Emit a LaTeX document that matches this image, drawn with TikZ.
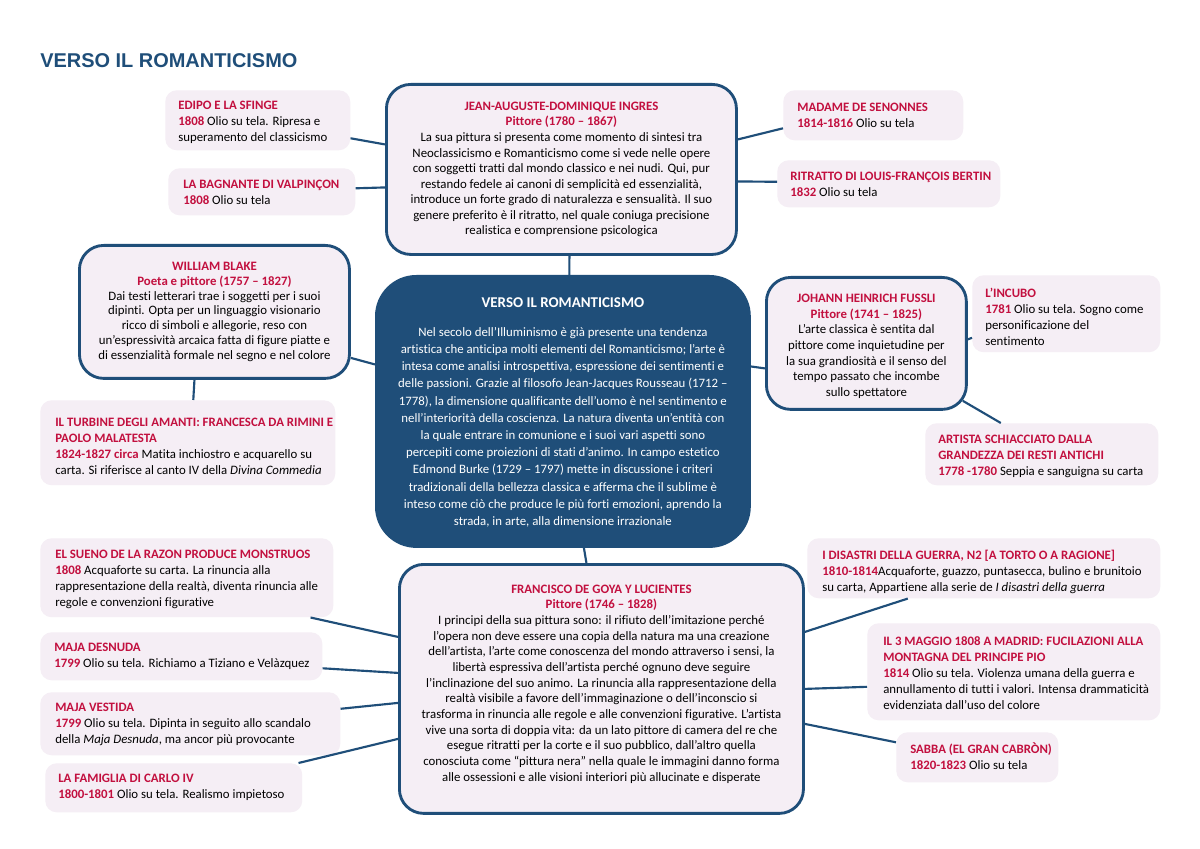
\documentclass[tikz,border=0pt]{standalone}
\usepackage{fontspec}
\setmainfont{Carlito}[Ligatures=NoCommon]
\newfontfamily\titlefont{Liberation Sans}
\usetikzlibrary{calc}
\definecolor{navy}{HTML}{1F4E79}
\definecolor{cardfill}{HTML}{F5EEF5}
\definecolor{redc}{HTML}{C2103F}
\newcommand{\redb}[1]{\textbf{\textcolor{redc}{#1}}}
\begin{document}
\begin{tikzpicture}[x=0.7017pt,y=-0.7017pt,
  card/.style={fill=cardfill, draw=none, rounded corners=8pt, inner sep=0pt, anchor=north west},
  bigcard/.style={fill=cardfill, draw=navy, line width=2pt, rounded corners=17pt, inner sep=0pt, anchor=north west},
  centralcard/.style={fill=navy, draw=navy, line width=2pt, rounded corners=28pt, inner sep=0pt, anchor=north west},
  txt/.style={inner sep=0pt, align=left, anchor=west, font=\fontsize{9}{11.2}\selectfont},
  ctxt/.style={inner sep=0pt, align=center, font=\fontsize{9}{10.9}\selectfont},
  link/.style={draw=navy, line width=1.5pt},
]
\useasboundingbox (0,0) rectangle (1200,849);
\fill[white] (0,0) rectangle (1200,849);

% title
\node[inner sep=0pt, anchor=base west, text=navy, font=\titlefont\bfseries\fontsize{14}{16}\selectfont] (title) at (40,68) {VERSO IL ROMANTICISMO};

% ---------- boxes ----------
\node[card, minimum width=129.8pt, minimum height=42.1pt] (edipo) at (165,90) {};
\node[card, minimum width=131.2pt, minimum height=33.0pt] (bagnante) at (168,168) {};
\node[bigcard, minimum width=245.6pt, minimum height=119.3pt] (ingres) at (385,83) {};
\node[card, minimum width=126.3pt, minimum height=35.1pt] (madame) at (783,90) {};
\node[card, minimum width=156.5pt, minimum height=33.0pt] (ritratto) at (777,160) {};
\node[bigcard, minimum width=189.5pt, minimum height=93.3pt] (blake) at (78,244) {};
\node[centralcard, minimum width=261.7pt, minimum height=189.5pt] (central) at (375,275) {};
\node[bigcard, minimum width=140.3pt, minimum height=92.6pt] (fussli) at (765,276) {};
\node[card, minimum width=131.9pt, minimum height=54.0pt] (incubo) at (972,275) {};
\node[card, minimum width=207.0pt, minimum height=59.6pt] (turbine) at (40,400) {};
\node[card, minimum width=163.5pt, minimum height=43.5pt] (artista) at (925,423) {};
\node[card, minimum width=205.6pt, minimum height=55.4pt] (sueno) at (40,538) {};
\node[card, minimum width=197.9pt, minimum height=33.7pt] (desnuda) at (40,632) {};
\node[card, minimum width=210.5pt, minimum height=44.2pt] (vestida) at (40,692) {};
\node[card, minimum width=180.3pt, minimum height=34.4pt] (famiglia) at (45,763) {};
\node[bigcard, minimum width=283.5pt, minimum height=174.7pt] (goya) at (398,563) {};
\node[card, minimum width=247.7pt, minimum height=42.1pt] (disastri) at (807,538) {};
\node[card, minimum width=205.6pt, minimum height=68.1pt] (maggio) at (867,623) {};
\node[card, minimum width=113.7pt, minimum height=35.1pt] (sabba) at (896,732) {};

% ---------- connectors ----------
\draw[link] ($(edipo.east)+(0,18)$) -- ($(ingres.west)+(0,-25)$);
\draw[link] ($(bagnante.east)+(0,-3.5)$) -- ($(ingres.west)+(0,18)$);
\draw[link] ($(ingres.east)+(0,-30)$) -- ($(madame.west)+(0,13)$);
\draw[link] ($(ingres.east)+(0,12)$) -- ($(ritratto.west)+(0,-2)$);
\draw[link] ($(ingres.south)+(8,0)$) -- ($(central.north)+(6.5,0)$);
\draw[link] ($(blake.east)+(0,46)$) -- ($(central.west)+(0,-47)$);
\draw[link] ($(blake.south)+(-20,0)$) -- ($(turbine.north)+(5.5,0)$);
\draw[link] ($(central.east)+(0,-45)$) -- ($(fussli.west)+(0,25)$);
\draw[link] ($(fussli.east)+(0,-4)$) -- ($(incubo.west)+(0,24)$);
\draw[link] ($(fussli.south east)+(-5,-10)$) -- ($(artista.north)+(-41,0)$);
\draw[link] ($(central.south)+(21,0)$) -- ($(goya.north)+(-15,0)$);
\draw[link] ($(sueno.south east)+(-23,0)$) -- ($(goya.west)+(0,-52)$);
\draw[link] ($(desnuda.east)+(0,12)$) -- ($(goya.west)+(0,-16)$);
\draw[link] ($(vestida.east)+(0,-15)$) -- ($(goya.west)+(0,14)$);
\draw[link] ($(famiglia.north east)+(-4,0)$) -- ($(goya.west)+(0,50)$);
\draw[link] ($(goya.east)+(0,-57)$) -- ($(disastri.south)+(-76,0)$);
\draw[link] (goya.east) -- ($(maggio.west)+(0,15)$);
\draw[link] ($(goya.east)+(0,35)$) -- ($(sabba.west)+(0,-15)$);

% ---------- texts ----------
\node[txt] (edipo-t) at ($(edipo.west)+(13,2)$) {\redb{EDIPO E LA SFINGE}\\ \redb{1808} Olio su tela. Ripresa e\\ superamento del classicismo};
\node[txt] (bagnante-t) at ($(bagnante.west)+(15,1)$) {\redb{LA BAGNANTE DI VALPINÇON}\\ \redb{1808} Olio su tela};
\node[ctxt] (ingres-t) at (ingres.center) {\redb{JEAN-AUGUSTE-DOMINIQUE INGRES}\\ \redb{Pittore (1780 – 1867)}\\ La sua pittura si presenta come momento di sintesi tra\\ Neoclassicismo e Romanticismo come si vede nelle opere\\ con soggetti tratti dal mondo classico e nei nudi. Qui, pur\\ restando fedele ai canoni di semplicità ed essenzialità,\\ introduce un forte grado di naturalezza e sensualità. Il suo\\ genere preferito è il ritratto, nel quale coniuga precisione\\ realistica e comprensione psicologica};
\node[txt] (madame-t) at ($(madame.west)+(14,0)$) {\redb{MADAME DE SENONNES}\\ \redb{1814-1816} Olio su tela};
\node[txt] (ritratto-t) at ($(ritratto.west)+(13,0.5)$) {\redb{RITRATTO DI LOUIS-FRANÇOIS BERTIN}\\ \redb{1832} Olio su tela};
\node[ctxt, font=\fontsize{9}{10.5}\selectfont] (blake-t) at (blake.center) {\redb{WILLIAM BLAKE}\\ \redb{Poeta e pittore (1757 – 1827)}\\ Dai testi letterari trae i soggetti per i suoi\\ dipinti. Opta per un linguaggio visionario\\ ricco di simboli e allegorie, reso con\\ un’espressività arcaica fatta di figure piatte e\\ di essenzialità formale nel segno e nel colore};
\node[ctxt, text=white, font=\fontsize{9}{12.07}\selectfont] (central-t) at ($(central.center)+(0,1)$) {{\fontsize{10.5}{12}\selectfont\textbf{VERSO IL ROMANTICISMO}}\\[8pt] Nel secolo dell’Illuminismo è già presente una tendenza\\ artistica che anticipa molti elementi del Romanticismo; l’arte è\\ intesa come analisi introspettiva, espressione dei sentimenti e\\ delle passioni. Grazie al filosofo Jean-Jacques Rousseau (1712 –\\ 1778), la dimensione qualificante dell’uomo è nel sentimento e\\ nell’interiorità della coscienza. La natura diventa un’entità con\\ la quale entrare in comunione e i suoi vari aspetti sono\\ percepiti come proiezioni di stati d’animo. In campo estetico\\ Edmond Burke (1729 – 1797) mette in discussione i criteri\\ tradizionali della bellezza classica e afferma che il sublime è\\ inteso come ciò che produce le più forti emozioni, aprendo la\\ strada, in arte, alla dimensione irrazionale};
\node[ctxt, font=\fontsize{9}{11}\selectfont] (fussli-t) at ($(fussli.center)+(0,3)$) {\redb{JOHANN HEINRICH FUSSLI}\\ \redb{Pittore (1741 – 1825)}\\ L’arte classica è sentita dal\\ pittore come inquietudine per\\ la sua grandiosità e il senso del\\ tempo passato che incombe\\ sullo spettatore};
\node[txt] (incubo-t) at ($(incubo.west)+(13,3)$) {\redb{L’INCUBO}\\ \redb{1781} Olio su tela. Sogno come\\ personificazione del\\ sentimento};
\node[txt] (turbine-t) at ($(turbine.west)+(15,3.5)$) {\redb{IL TURBINE DEGLI AMANTI: FRANCESCA DA RIMINI E}\\ \redb{PAOLO MALATESTA}\\ \redb{1824-1827 circa} Matita inchiostro e acquarello su\\ carta. Si riferisce al canto IV della \textit{Divina Commedia}};
\node[txt] (artista-t) at ($(artista.west)+(13,2)$) {\redb{ARTISTA SCHIACCIATO DALLA}\\ \redb{GRANDEZZA DEI RESTI ANTICHI}\\ \redb{1778 -1780} Seppia e sanguigna su carta};
\node[txt] (sueno-t) at ($(sueno.west)+(15,2)$) {\redb{EL SUENO DE LA RAZON PRODUCE MONSTRUOS}\\ \redb{1808} Acquaforte su carta. La rinuncia alla\\ rappresentazione della realtà, diventa rinuncia alle\\ regole e convenzioni figurative};
\node[txt] (desnuda-t) at ($(desnuda.west)+(14,0)$) {\redb{MAJA DESNUDA}\\ \redb{1799} Olio su tela. Richiamo a Tiziano e Velàzquez};
\node[txt] (vestida-t) at ($(vestida.west)+(15,0.5)$) {\redb{MAJA VESTIDA}\\ \redb{1799} Olio su tela. Dipinta in seguito allo scandalo\\ della \textit{Maja Desnuda}, ma ancor più provocante};
\node[txt] (famiglia-t) at ($(famiglia.west)+(13,0)$) {\redb{LA FAMIGLIA DI CARLO IV}\\ \redb{1800-1801} Olio su tela. Realismo impietoso};
\node[ctxt, font=\fontsize{9}{11}\selectfont] (goya-t) at ($(goya.center)+(0,-5)$) {\redb{FRANCISCO DE GOYA Y LUCIENTES}\\ \redb{Pittore (1746 – 1828)}\\ I principi della sua pittura sono: il rifiuto dell’imitazione perché\\ l’opera non deve essere una copia della natura ma una creazione\\ dell’artista, l’arte come conoscenza del mondo attraverso i sensi, la\\ libertà espressiva dell’artista perché ognuno deve seguire\\ l’inclinazione del suo animo. La rinuncia alla rappresentazione della\\ realtà visibile a favore dell’immaginazione o dell’inconscio si\\ trasforma in rinuncia alle regole e alle convenzioni figurative. L’artista\\ vive una sorta di doppia vita: da un lato pittore di camera del re che\\ esegue ritratti per la corte e il suo pubblico, dall’altro quella\\ conosciuta come “pittura nera” nella quale le immagini danno forma\\ alle ossessioni e alle visioni interiori più allucinate e disperate};
\node[txt] (disastri-t) at ($(disastri.west)+(15,4)$) {\redb{I DISASTRI DELLA GUERRA, N2 [A TORTO O A RAGIONE]}\\ \redb{1810-1814}Acquaforte, guazzo, puntasecca, bulino e brunitoio\\ su carta, Appartiene alla serie de \textit{I disastri della guerra}};
\node[txt] (maggio-t) at ($(maggio.west)+(16,1.5)$) {\redb{IL 3 MAGGIO 1808 A MADRID: FUCILAZIONI ALLA}\\ \redb{MONTAGNA DEL PRINCIPE PIO}\\ \redb{1814} Olio su tela. Violenza umana della guerra e\\ annullamento di tutti i valori. Intensa drammaticità\\ evidenziata dall’uso del colore};
\node[txt] (sabba-t) at ($(sabba.west)+(14,-1)$) {\redb{SABBA (EL GRAN CABRÒN)}\\ \redb{1820-1823} Olio su tela};
\end{tikzpicture}
\end{document}
